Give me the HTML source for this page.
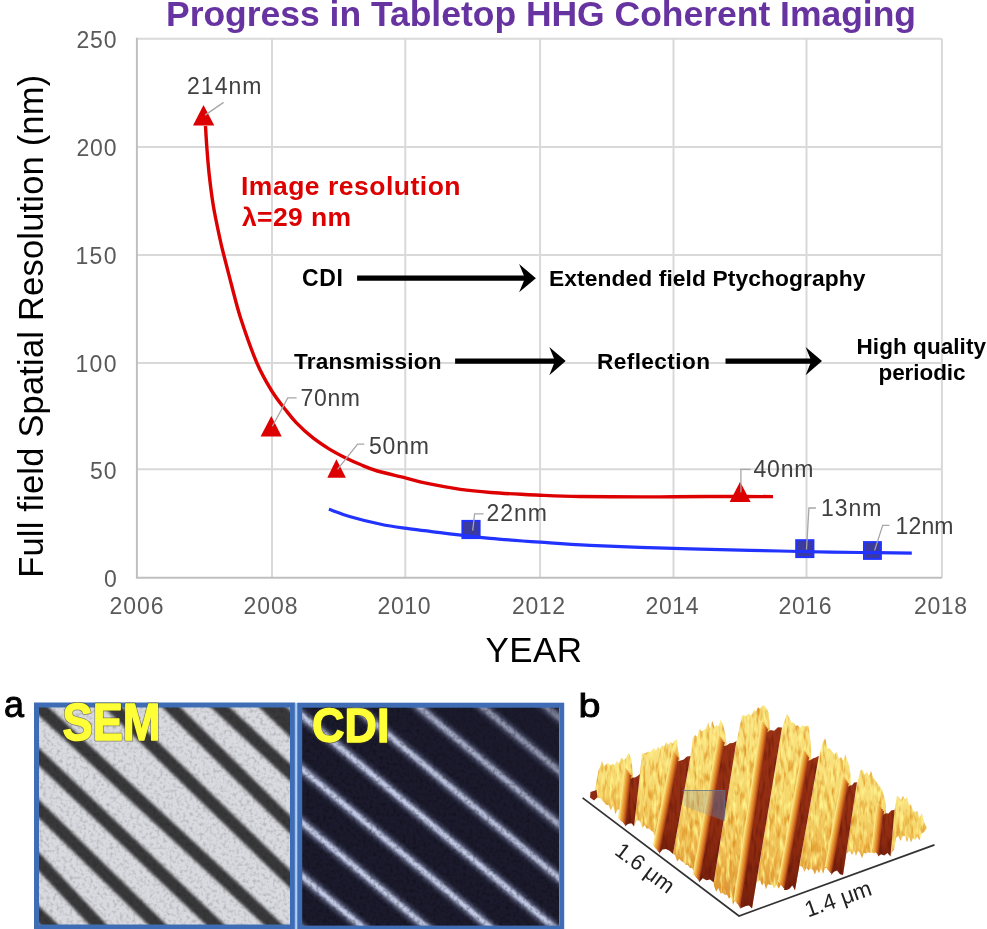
<!DOCTYPE html>
<html><head><meta charset="utf-8"><title>Progress in Tabletop HHG Coherent Imaging</title>
<style>
html,body{margin:0;padding:0;background:#fff;}
body{width:987px;height:929px;overflow:hidden;position:relative;}
svg{position:absolute;left:0;top:0;}
text{font-family:'Liberation Sans',Arial,sans-serif;}
</style></head><body>
<svg width="987" height="929" viewBox="0 0 987 929">
<line x1="272.0" y1="38.8" x2="272.0" y2="577.8" stroke="#d9d9d9" stroke-width="2"/>
<line x1="405.3" y1="38.8" x2="405.3" y2="577.8" stroke="#d9d9d9" stroke-width="2"/>
<line x1="540.1" y1="38.8" x2="540.1" y2="577.8" stroke="#d9d9d9" stroke-width="2"/>
<line x1="673.5" y1="38.8" x2="673.5" y2="577.8" stroke="#d9d9d9" stroke-width="2"/>
<line x1="806.5" y1="38.8" x2="806.5" y2="577.8" stroke="#d9d9d9" stroke-width="2"/>
<line x1="136.9" y1="38.8" x2="941.9" y2="38.8" stroke="#d9d9d9" stroke-width="2"/>
<line x1="136.9" y1="146.9" x2="941.9" y2="146.9" stroke="#d9d9d9" stroke-width="2"/>
<line x1="136.9" y1="255.0" x2="941.9" y2="255.0" stroke="#d9d9d9" stroke-width="2"/>
<line x1="136.9" y1="363.0" x2="941.9" y2="363.0" stroke="#d9d9d9" stroke-width="2"/>
<line x1="136.9" y1="469.3" x2="941.9" y2="469.3" stroke="#d9d9d9" stroke-width="2"/>
<line x1="941.9" y1="38.8" x2="941.9" y2="577.8" stroke="#d9d9d9" stroke-width="2"/>
<line x1="136.9" y1="37.8" x2="136.9" y2="577.8" stroke="#bfbfbf" stroke-width="2"/>
<line x1="135.9" y1="577.8" x2="941.9" y2="577.8" stroke="#bfbfbf" stroke-width="2"/>
<text x="241.00" y="194.70" font-size="26.50" font-weight="bold" fill="#dd0000" textLength="219.50" lengthAdjust="spacing">Image resolution</text>
<text x="242.00" y="225.80" font-size="26.50" font-weight="bold" fill="#dd0000" textLength="109.00" lengthAdjust="spacing">λ=29 nm</text>
<text x="302.00" y="285.80" font-size="23.00" font-weight="bold" fill="#000" textLength="41.00" lengthAdjust="spacing">CDI</text>
<text x="549.00" y="285.70" font-size="22.80" font-weight="bold" fill="#000" textLength="316.50" lengthAdjust="spacing">Extended field Ptychography</text>
<text x="294.00" y="368.80" font-size="22.60" font-weight="bold" fill="#000" textLength="147.50" lengthAdjust="spacing">Transmission</text>
<text x="597.00" y="368.70" font-size="22.60" font-weight="bold" fill="#000" textLength="113.00" lengthAdjust="spacing">Reflection</text>
<text x="856.50" y="353.80" font-size="22.50" font-weight="bold" fill="#000" textLength="129.50" lengthAdjust="spacing">High quality</text>
<text x="878.50" y="379.90" font-size="22.50" font-weight="bold" fill="#000" textLength="87.00" lengthAdjust="spacing">periodic</text>
<text x="109.50" y="614.00" font-size="23.00" font-weight="normal" fill="#595959" textLength="54.00" lengthAdjust="spacing">2006</text>
<text x="243.50" y="614.00" font-size="23.00" font-weight="normal" fill="#595959" textLength="54.00" lengthAdjust="spacing">2008</text>
<text x="377.50" y="614.00" font-size="23.00" font-weight="normal" fill="#595959" textLength="53.00" lengthAdjust="spacing">2010</text>
<text x="512.00" y="614.00" font-size="23.00" font-weight="normal" fill="#595959" textLength="53.00" lengthAdjust="spacing">2012</text>
<text x="645.50" y="614.00" font-size="23.00" font-weight="normal" fill="#595959" textLength="53.00" lengthAdjust="spacing">2014</text>
<text x="778.50" y="614.00" font-size="23.00" font-weight="normal" fill="#595959" textLength="53.00" lengthAdjust="spacing">2016</text>
<text x="914.00" y="614.00" font-size="23.00" font-weight="normal" fill="#595959" textLength="53.00" lengthAdjust="spacing">2018</text>
<text x="76.50" y="48.20" font-size="23.00" font-weight="normal" fill="#595959" textLength="40.00" lengthAdjust="spacing">250</text>
<text x="76.50" y="155.70" font-size="23.00" font-weight="normal" fill="#595959" textLength="40.00" lengthAdjust="spacing">200</text>
<text x="75.50" y="264.20" font-size="23.00" font-weight="normal" fill="#595959" textLength="41.00" lengthAdjust="spacing">150</text>
<text x="75.50" y="372.20" font-size="23.00" font-weight="normal" fill="#595959" textLength="41.00" lengthAdjust="spacing">100</text>
<text x="89.90" y="478.70" font-size="23.00" font-weight="normal" fill="#595959" textLength="26.60" lengthAdjust="spacing">50</text>
<text x="104.10" y="587.20" font-size="23.00" font-weight="normal" fill="#595959" textLength="21.40" lengthAdjust="spacing">0</text>
<polygon points="203.5,105.0 214.3,125.5 193.0,125.5" fill="#dd0000"/>
<polygon points="271.3,416.0 281.7,436.6 260.6,436.6" fill="#dd0000"/>
<polygon points="336.4,459.3 345.9,477.8 327.3,477.8" fill="#dd0000"/>
<polygon points="740.1,481.7 750.7,502.0 729.6,502.0" fill="#dd0000"/>
<rect x="462.4" y="520.9" width="17.2" height="17.2" fill="#3a3a9f" stroke="#2233ff" stroke-width="2"/>
<rect x="796.2" y="540.2" width="17.2" height="16.9" fill="#3a3a9f" stroke="#2233ff" stroke-width="2"/>
<rect x="864.0" y="542.1" width="16.9" height="16.8" fill="#3a3a9f" stroke="#2233ff" stroke-width="2"/>
<path d="M205.5,126.0 C205.7,129.5 206.2,138.8 206.8,146.9 C207.4,155.0 208.1,164.5 209.2,174.5 C210.3,184.5 211.7,196.1 213.5,206.8 C215.3,217.6 218.3,231.0 220.0,239.0 C221.7,247.0 221.9,247.4 223.8,255.0 C225.7,262.6 228.6,273.8 231.4,284.5 C234.2,295.2 236.7,305.9 240.9,319.0 C245.2,332.1 251.7,351.0 256.9,363.0 C262.0,375.0 267.0,383.2 271.8,391.0 C276.6,398.8 281.6,404.7 285.7,410.0 C289.8,415.3 291.8,418.0 296.2,422.6 C300.6,427.2 307.0,433.1 312.4,437.4 C317.8,441.7 323.2,445.2 328.6,448.6 C334.0,452.0 339.4,454.8 344.8,457.5 C350.2,460.2 355.6,462.6 361.0,464.8 C366.4,467.1 369.9,468.8 377.3,471.0 C384.7,473.2 397.2,475.8 405.3,477.8 C413.4,479.8 416.7,481.3 425.9,483.2 C435.1,485.1 449.6,487.8 460.4,489.4 C471.2,490.9 480.7,491.7 490.8,492.5 C500.9,493.3 513.0,493.9 521.2,494.3 C529.4,494.8 530.3,494.8 540.1,495.2 C549.9,495.6 562.9,496.2 580.0,496.5 C597.1,496.8 627.2,496.8 642.8,496.9 C658.4,496.9 660.3,496.9 673.5,496.8 C686.7,496.7 705.2,496.5 721.8,496.5 C738.4,496.5 764.5,496.6 773.0,496.6" fill="none" stroke="#dd0000" stroke-width="3.4"/>
<path d="M328.9,509.3 C332.5,510.5 341.8,514.2 350.4,516.7 C359.0,519.2 371.7,522.4 380.8,524.3 C389.9,526.2 394.0,526.7 405.1,528.2 C416.2,529.8 433.6,531.9 447.7,533.6 C461.8,535.3 474.6,536.9 490.0,538.3 C505.4,539.7 523.4,541.0 540.1,542.2 C556.8,543.4 567.8,544.4 590.0,545.4 C612.2,546.4 646.8,547.6 673.5,548.4 C700.2,549.2 728.9,549.8 750.0,550.3 C771.1,550.8 781.7,551.1 800.0,551.5 C818.3,551.9 841.4,552.2 860.0,552.5 C878.6,552.8 903.2,553.0 911.8,553.1" fill="none" stroke="#2233ff" stroke-width="3.2"/>
<polyline points="205.1,115.1 223.6,102.4" fill="none" stroke="#a6a6a6" stroke-width="1.3"/>
<polyline points="272.4,426.3 287.8,397.9 296.6,397.9" fill="none" stroke="#a6a6a6" stroke-width="1.3"/>
<polyline points="337.5,469.4 357.6,444.1 364.3,444.1" fill="none" stroke="#a6a6a6" stroke-width="1.3"/>
<polyline points="740.9,492.3 740.9,469.4 750.7,469.4" fill="none" stroke="#a6a6a6" stroke-width="1.3"/>
<polyline points="472.7,530.6 474.6,513.8 483.6,513.8" fill="none" stroke="#a6a6a6" stroke-width="1.3"/>
<polyline points="806.5,549.6 808.9,508.0 815.9,508.0" fill="none" stroke="#a6a6a6" stroke-width="1.3"/>
<polyline points="874.6,550.4 882.7,525.3 889.4,525.3" fill="none" stroke="#a6a6a6" stroke-width="1.3"/>
<text x="187.00" y="93.90" font-size="23.00" font-weight="normal" fill="#404040" textLength="74.50" lengthAdjust="spacing">214nm</text>
<text x="300.50" y="406.10" font-size="23.00" font-weight="normal" fill="#404040" textLength="59.50" lengthAdjust="spacing">70nm</text>
<text x="369.00" y="453.50" font-size="23.00" font-weight="normal" fill="#404040" textLength="60.00" lengthAdjust="spacing">50nm</text>
<text x="753.50" y="476.90" font-size="23.00" font-weight="normal" fill="#404040" textLength="60.00" lengthAdjust="spacing">40nm</text>
<text x="486.50" y="520.90" font-size="23.00" font-weight="normal" fill="#404040" textLength="60.50" lengthAdjust="spacing">22nm</text>
<text x="821.00" y="515.80" font-size="23.00" font-weight="normal" fill="#404040" textLength="60.50" lengthAdjust="spacing">13nm</text>
<text x="895.50" y="533.90" font-size="23.00" font-weight="normal" fill="#404040" textLength="58.00" lengthAdjust="spacing">12nm</text>
<line x1="357.1" y1="278.2" x2="526.0" y2="278.2" stroke="#000" stroke-width="5.3"/><polygon points="535.9,278.2 519.1,264.1 525.0,278.2 519.1,292.3" fill="#000"/>
<line x1="455.1" y1="361.1" x2="556.0" y2="361.1" stroke="#000" stroke-width="5.3"/><polygon points="565.7,361.1 549.3,346.9 555.0,361.1 549.3,375.3" fill="#000"/>
<line x1="725.5" y1="361.1" x2="812.3" y2="361.1" stroke="#000" stroke-width="5.3"/><polygon points="822.0,361.1 805.6,347.0 811.3,361.1 805.6,375.2" fill="#000"/>
<text x="166.00" y="26.40" font-size="35.50" font-weight="bold" fill="#6633a0" textLength="750.00" lengthAdjust="spacing">Progress in Tabletop HHG Coherent Imaging</text>
<text x="0" y="0" font-size="34.5" fill="#000" text-anchor="middle" transform="translate(43.0,326.3) rotate(-90)" textLength="503" lengthAdjust="spacing">Full field Spatial Resolution (nm)</text>
<text x="485.50" y="662.30" font-size="35.00" font-weight="normal" fill="#000" textLength="96.50" lengthAdjust="spacing">YEAR</text>

<defs>
<filter id="semnoise" x="0" y="0" width="100%" height="100%">
  <feTurbulence type="fractalNoise" baseFrequency="0.3" numOctaves="2" seed="3" result="n"/>
  <feColorMatrix in="n" type="matrix" values="0 0 0 0 0  0 0 0 0 0  0 0 0 0 0  2.2 0 0 0 -1.0" result="a0"/>
  <feGaussianBlur in="a0" stdDeviation="0.7" result="a"/>
  <feComposite in="a" in2="SourceGraphic" operator="in"/>
</filter>
<filter id="blur2" x="-20%" y="-20%" width="140%" height="140%"><feGaussianBlur stdDeviation="2"/></filter>
<filter id="blur15" x="-20%" y="-20%" width="140%" height="140%"><feGaussianBlur stdDeviation="1.6"/></filter>
<filter id="blur1"><feGaussianBlur stdDeviation="1.2"/></filter>
<filter id="blur07"><feGaussianBlur stdDeviation="0.7"/></filter>
<linearGradient id="cdidim" x1="0" y1="1" x2="1" y2="0"><stop offset="0" stop-color="#1a1a2c" stop-opacity="0"/><stop offset="0.55" stop-color="#1a1a2c" stop-opacity="0"/><stop offset="1" stop-color="#1a1a2c" stop-opacity="0.45"/></linearGradient>
<clipPath id="semclip"><rect x="39" y="707" width="251" height="222"/></clipPath>
<clipPath id="cdiclip"><rect x="302" y="707" width="257" height="222"/></clipPath>
</defs>

<text x="4.0" y="717" font-size="36" fill="#000" stroke="#000" stroke-width="0.9">a</text>
<g clip-path="url(#semclip)"><rect x="39" y="707" width="251" height="222" fill="#d9dadf"/><line x1="175.3" y1="610.2" x2="408.7" y2="832.0" stroke="#38383b" stroke-width="13" filter="url(#blur15)"/><line x1="111.2" y1="605.8" x2="398.8" y2="873.5" stroke="#38383b" stroke-width="13" filter="url(#blur15)"/><line x1="65.3" y1="602.6" x2="395.7" y2="928.9" stroke="#38383b" stroke-width="13" filter="url(#blur15)"/><line x1="6.4" y1="603.5" x2="396.6" y2="982.5" stroke="#38383b" stroke-width="13" filter="url(#blur15)"/><line x1="-69.9" y1="605.9" x2="380.4" y2="1024.1" stroke="#38383b" stroke-width="13" filter="url(#blur15)"/><line x1="-68.7" y1="654.6" x2="321.2" y2="1025.4" stroke="#38383b" stroke-width="13" filter="url(#blur15)"/><line x1="-67.2" y1="705.1" x2="261.7" y2="1026.9" stroke="#38383b" stroke-width="13" filter="url(#blur15)"/><line x1="-62.6" y1="753.6" x2="197.9" y2="1031.4" stroke="#38383b" stroke-width="13" filter="url(#blur15)"/><line x1="-68.2" y1="812.1" x2="158.2" y2="1029.5" stroke="#38383b" stroke-width="13" filter="url(#blur15)"/><line x1="131.7" y1="576.2" x2="408.3" y2="841.3" stroke="#38383b" stroke-width="13" filter="url(#blur15)"/><rect x="39" y="707" width="251" height="222" fill="#000000" filter="url(#semnoise)" opacity="0.18"/></g>
<g clip-path="url(#cdiclip)"><rect x="302" y="707" width="257" height="222" fill="#1a1a2c"/><line x1="280.0" y1="429.7" x2="580.0" y2="681.7" stroke="#6a7090" stroke-width="10" filter="url(#blur2)"/><line x1="280.0" y1="429.7" x2="580.0" y2="681.7" stroke="#c4cce6" stroke-width="5" filter="url(#blur1)"/><line x1="280.0" y1="483.2" x2="580.0" y2="735.2" stroke="#6a7090" stroke-width="10" filter="url(#blur2)"/><line x1="280.0" y1="483.2" x2="580.0" y2="735.2" stroke="#c4cce6" stroke-width="5" filter="url(#blur1)"/><line x1="280.0" y1="536.7" x2="580.0" y2="788.7" stroke="#6a7090" stroke-width="10" filter="url(#blur2)"/><line x1="280.0" y1="536.7" x2="580.0" y2="788.7" stroke="#c4cce6" stroke-width="5" filter="url(#blur1)"/><line x1="280.0" y1="590.2" x2="580.0" y2="842.2" stroke="#6a7090" stroke-width="10" filter="url(#blur2)"/><line x1="280.0" y1="590.2" x2="580.0" y2="842.2" stroke="#c4cce6" stroke-width="5" filter="url(#blur1)"/><line x1="280.0" y1="643.7" x2="580.0" y2="895.7" stroke="#6a7090" stroke-width="10" filter="url(#blur2)"/><line x1="280.0" y1="643.7" x2="580.0" y2="895.7" stroke="#c4cce6" stroke-width="5" filter="url(#blur1)"/><line x1="280.0" y1="697.2" x2="580.0" y2="949.2" stroke="#6a7090" stroke-width="10" filter="url(#blur2)"/><line x1="280.0" y1="697.2" x2="580.0" y2="949.2" stroke="#c4cce6" stroke-width="5" filter="url(#blur1)"/><line x1="280.0" y1="750.7" x2="580.0" y2="1002.7" stroke="#6a7090" stroke-width="10" filter="url(#blur2)"/><line x1="280.0" y1="750.7" x2="580.0" y2="1002.7" stroke="#c4cce6" stroke-width="5" filter="url(#blur1)"/><line x1="280.0" y1="804.2" x2="580.0" y2="1056.2" stroke="#6a7090" stroke-width="10" filter="url(#blur2)"/><line x1="280.0" y1="804.2" x2="580.0" y2="1056.2" stroke="#c4cce6" stroke-width="5" filter="url(#blur1)"/><line x1="280.0" y1="857.7" x2="580.0" y2="1109.7" stroke="#6a7090" stroke-width="10" filter="url(#blur2)"/><line x1="280.0" y1="857.7" x2="580.0" y2="1109.7" stroke="#c4cce6" stroke-width="5" filter="url(#blur1)"/><line x1="280.0" y1="911.2" x2="580.0" y2="1163.2" stroke="#6a7090" stroke-width="10" filter="url(#blur2)"/><line x1="280.0" y1="911.2" x2="580.0" y2="1163.2" stroke="#c4cce6" stroke-width="5" filter="url(#blur1)"/><line x1="280.0" y1="964.7" x2="580.0" y2="1216.7" stroke="#6a7090" stroke-width="10" filter="url(#blur2)"/><line x1="280.0" y1="964.7" x2="580.0" y2="1216.7" stroke="#c4cce6" stroke-width="5" filter="url(#blur1)"/><rect x="302" y="707" width="257" height="222" fill="#000010" filter="url(#semnoise)" opacity="0.35"/><rect x="302" y="707" width="257" height="222" fill="url(#cdidim)"/></g>
<rect x="36.5" y="705" width="256" height="222" fill="none" stroke="#3f6db5" stroke-width="5"/>
<rect x="299.7" y="705.2" width="262" height="222.9" fill="none" stroke="#3f6db5" stroke-width="5"/>
<line x1="295.8" y1="703" x2="295.8" y2="929" stroke="#9cc2f2" stroke-width="2"/>
<text x="62.5" y="740.3" font-size="51" font-weight="bold" fill="#3a3a12" stroke="#3a3a12" stroke-width="3" stroke-linejoin="round" opacity="0.55" textLength="98.0" lengthAdjust="spacingAndGlyphs">SEM</text>
<text x="62.5" y="740.3" font-size="51" font-weight="bold" fill="#ffff38" stroke="#ffff38" stroke-width="1.4" stroke-linejoin="round" textLength="98.0" lengthAdjust="spacingAndGlyphs">SEM</text>
<text x="312.0" y="742.2" font-size="49" font-weight="bold" fill="#3a3a12" stroke="#3a3a12" stroke-width="3" stroke-linejoin="round" opacity="0.55" textLength="77.5" lengthAdjust="spacingAndGlyphs">CDI</text>
<text x="312.0" y="742.2" font-size="49" font-weight="bold" fill="#ffff38" stroke="#ffff38" stroke-width="1.4" stroke-linejoin="round" textLength="77.5" lengthAdjust="spacingAndGlyphs">CDI</text>
<defs>
<filter id="ridgeTex" x="0" y="0" width="100%" height="100%" color-interpolation-filters="sRGB">
 <feTurbulence type="fractalNoise" baseFrequency="0.3 0.075" numOctaves="2" seed="5" result="n"/>
 <feColorMatrix in="n" type="matrix" values="0 0 0 0 0.88  0 0 0 0 0.6  0 0 0 0 0.16  2.8 0 0 0 -1.25" result="c1"/>
 <feColorMatrix in="n" type="matrix" values="0 0 0 0 1  0 0 0 0 0.96  0 0 0 0 0.55  0 2.6 0 0 -1.15" result="c2"/>
 <feMerge result="m"><feMergeNode in="c1"/><feMergeNode in="c2"/></feMerge>
 <feComposite in="m" in2="SourceGraphic" operator="atop"/>
</filter>
<filter id="trTex" x="0" y="0" width="100%" height="100%" color-interpolation-filters="sRGB">
 <feTurbulence type="fractalNoise" baseFrequency="0.35 0.08" numOctaves="1" seed="9" result="n"/>
 <feColorMatrix in="n" type="matrix" values="0 0 0 0 0.36  0 0 0 0 0.06  0 0 0 0 0.02  1.6 0 0 0 -0.72" result="c1"/>
 <feComposite in="c1" in2="SourceGraphic" operator="atop"/>
</filter>
<filter id="soft05"><feGaussianBlur stdDeviation="0.5"/></filter>
<linearGradient id="rg" x1="0" y1="0" x2="0" y2="1">
 <stop offset="0" stop-color="#fae484"/><stop offset="0.45" stop-color="#f5d66a"/><stop offset="0.75" stop-color="#edb64c"/><stop offset="1" stop-color="#d5842a"/>
</linearGradient>
<linearGradient id="tg" x1="0" y1="0" x2="0" y2="1">
 <stop offset="0" stop-color="#9a3214"/><stop offset="0.7" stop-color="#8c2a10"/><stop offset="1" stop-color="#76200c"/>
</linearGradient>
</defs>
<g><g filter="url(#ridgeTex)"><polygon points="591.0,797.0 593.0,792.7 595.0,791.0 597.0,778.0 598.5,770.5 600.0,767.0 602.0,760.6 604.0,766.5 606.0,764.5 608.2,762.7 610.3,765.6 612.5,763.8 614.7,765.1 616.8,761.1 619.0,763.5 621.3,757.6 623.7,760.1 626.0,758.0 627.5,754.8 629.0,752.8 630.2,756.3 631.5,760.0 632.5,770.0 633.0,777.0 625.0,826.5 626.0,811.0 624.0,809.4 621.9,814.5 619.9,810.0 617.6,809.2 615.4,814.2 613.1,805.6 610.8,810.6 608.6,805.1 606.3,805.0 604.2,802.6 602.1,800.4 600.0,798.0 597.7,797.8 595.3,799.0 593.0,799.0" fill="url(#rg)"/><polygon points="639.5,777.0 642.0,754.0 644.0,753.0 646.0,753.0 648.0,751.6 650.0,752.0 652.0,750.0 654.0,748.2 656.0,750.9 658.0,746.5 660.0,749.3 662.0,745.5 664.0,746.5 666.2,742.3 668.4,745.0 670.6,742.1 672.8,743.8 675.0,740.0 676.8,739.6 678.5,752.0 680.0,759.6 659.0,854.0 660.0,838.0 657.8,834.7 655.5,838.4 653.2,832.1 651.0,830.4 648.8,828.6 646.7,828.7 644.5,825.2 642.3,828.1 640.2,821.4 638.0,820.0 636.0,821.8 634.0,826.5 634.0,826.5" fill="url(#rg)"/><polygon points="690.0,759.0 693.0,737.6 695.2,735.1 697.3,737.0 699.5,728.4 701.7,731.6 703.8,729.8 706.0,728.6 708.1,722.6 710.1,728.5 712.2,720.4 714.3,727.0 716.4,725.3 718.5,726.3 720.5,720.1 722.6,723.4 724.0,728.7 725.5,735.0 726.5,744.0 699.0,882.4 699.0,875.0 696.8,873.2 694.5,873.5 692.2,867.9 690.0,868.0 687.9,865.0 685.7,865.0 683.6,862.3 681.4,861.2 679.3,858.7 677.1,861.6 675.0,855.0 673.0,854.0 673.0,854.0" fill="url(#rg)"/><polygon points="736.0,744.0 742.0,715.7 744.0,715.2 746.0,716.6 748.0,713.6 750.0,715.1 752.0,714.4 754.0,709.4 756.0,711.7 758.0,707.2 760.0,708.6 762.0,705.7 764.0,705.3 766.2,708.3 768.5,711.8 770.0,725.0 770.0,730.4 740.0,908.4 737.0,901.0 735.0,899.9 733.0,904.8 731.0,896.7 729.0,898.8 727.0,894.4 725.0,895.0 722.8,893.1 720.6,893.8 718.4,888.1 716.2,891.7 714.0,886.0 713.7,882.4 713.7,882.4" fill="url(#rg)"/><polygon points="781.5,730.4 786.8,714.2 789.0,717.0 791.3,722.5 793.5,722.6 795.8,725.8 797.9,725.4 800.1,727.7 802.2,725.1 804.4,726.5 806.6,725.8 808.7,725.8 811.0,745.0 811.3,758.8 784.0,890.0 783.0,885.0 780.8,885.0 778.7,888.5 776.5,884.9 774.3,888.6 772.2,884.7 770.0,885.0 768.0,883.9 766.0,889.3 764.0,882.4 762.0,885.6 760.0,879.9 758.0,881.8 756.0,880.0 754.0,882.5 752.0,885.0 752.0,908.4 752.0,908.4" fill="url(#rg)"/><polygon points="818.4,758.8 823.0,741.3 825.3,738.5 827.6,748.5 830.0,748.6 832.3,752.1 834.6,754.2 836.8,751.7 838.9,758.7 841.0,757.2 843.2,760.9 845.4,754.6 847.5,760.7 849.1,765.5 850.7,775.0 850.7,785.2 831.0,875.0 831.0,867.0 829.0,867.0 827.0,868.3 825.0,868.0 823.0,874.1 821.0,868.6 819.0,873.2 817.0,869.2 815.0,874.6 813.0,870.0 810.8,868.6 808.7,870.4 806.5,867.9 804.3,871.7 802.2,866.7 800.0,866.0 797.5,867.9 795.0,870.0 794.0,889.5 795.0,890.0" fill="url(#rg)"/><polygon points="856.5,785.2 860.4,770.4 862.5,769.5 864.7,774.9 866.8,771.5 869.0,775.8 871.1,770.8 873.3,777.5 875.6,780.5 877.8,784.0 880.1,786.7 882.4,790.4 884.2,796.4 886.0,805.0 886.0,812.7 878.0,856.4 878.0,852.0 876.0,852.2 874.0,853.6 872.0,852.5 870.0,853.0 868.0,852.3 866.0,853.8 864.0,852.7 862.0,858.3 860.0,853.0 858.0,850.7 856.0,856.1 854.0,850.8 852.0,854.9 850.0,851.0 848.0,852.3 846.0,853.9 844.0,855.0 843.0,875.0 843.0,875.0" fill="url(#rg)"/><polygon points="894.0,812.7 897.0,796.0 899.0,797.0 901.0,800.3 903.0,795.8 905.0,800.0 907.0,796.4 909.0,804.9 911.0,804.6 913.0,810.8 915.0,812.0 917.2,811.0 919.5,817.8 921.8,813.0 924.0,822.0 925.5,825.0 927.0,828.0 924.0,832.0 921.8,833.4 919.5,840.4 917.2,836.4 915.0,840.0 913.0,838.1 911.0,842.6 909.0,836.3 907.0,842.3 905.0,836.0 902.8,836.3 900.5,841.1 898.2,835.9 896.0,838.0 894.0,850.0 892.2,851.7 890.5,856.4 890.5,856.4" fill="url(#rg)"/></g><polygon points="624.1,767.0 626.0,767.0 620.0,818.5 618.1,818.5" fill="#fbe485"/><polygon points="625.2,768.6 627.1,768.6 621.2,819.7 619.3,819.7" fill="#f2c55a"/><polygon points="626.3,770.2 628.2,770.2 622.3,820.9 620.4,820.9" fill="#eaa53e"/><polygon points="627.4,771.8 629.3,771.8 623.5,822.1 621.6,822.1" fill="#e08a2c"/><polygon points="628.5,773.4 630.4,773.4 624.7,823.3 622.8,823.3" fill="#cf6a20"/><polygon points="629.7,775.0 631.6,775.0 625.8,824.5 623.9,824.5" fill="#b04a18"/><polygon points="672.1,749.6 674.0,749.6 654.7,846.0 652.8,846.0" fill="#fbe485"/><polygon points="673.1,751.2 675.0,751.2 655.8,847.2 653.9,847.2" fill="#f2c55a"/><polygon points="674.1,752.8 676.0,752.8 656.8,848.4 654.9,848.4" fill="#eaa53e"/><polygon points="675.0,754.4 676.9,754.4 657.9,849.6 656.0,849.6" fill="#e08a2c"/><polygon points="676.0,756.0 677.9,756.0 658.9,850.8 657.0,850.8" fill="#cf6a20"/><polygon points="677.0,757.6 678.9,757.6 660.0,852.0 658.1,852.0" fill="#b04a18"/><polygon points="717.9,734.0 719.8,734.0 694.5,874.4 692.6,874.4" fill="#fbe485"/><polygon points="718.9,735.6 720.8,735.6 695.6,875.6 693.7,875.6" fill="#f2c55a"/><polygon points="719.9,737.2 721.8,737.2 696.7,876.8 694.8,876.8" fill="#eaa53e"/><polygon points="720.9,738.8 722.8,738.8 697.8,878.0 695.9,878.0" fill="#e08a2c"/><polygon points="721.9,740.4 723.8,740.4 698.9,879.2 697.0,879.2" fill="#cf6a20"/><polygon points="722.9,742.0 724.8,742.0 700.0,880.4 698.1,880.4" fill="#b04a18"/><polygon points="761.0,720.4 762.9,720.4 735.3,900.4 733.4,900.4" fill="#fbe485"/><polygon points="762.1,722.0 764.0,722.0 736.4,901.6 734.5,901.6" fill="#f2c55a"/><polygon points="763.1,723.6 765.1,723.6 737.6,902.8 735.7,902.8" fill="#eaa53e"/><polygon points="764.2,725.2 766.1,725.2 738.7,904.0 736.8,904.0" fill="#e08a2c"/><polygon points="765.3,726.8 767.2,726.8 739.8,905.2 737.9,905.2" fill="#cf6a20"/><polygon points="766.3,728.4 768.2,728.4 740.9,906.4 739.0,906.4" fill="#b04a18"/><polygon points="802.4,748.8 804.3,748.8 779.6,882.0 777.7,882.0" fill="#fbe485"/><polygon points="803.4,750.4 805.3,750.4 780.7,883.2 778.8,883.2" fill="#f2c55a"/><polygon points="804.4,752.0 806.3,752.0 781.7,884.4 779.8,884.4" fill="#eaa53e"/><polygon points="805.4,753.6 807.3,753.6 782.8,885.6 780.9,885.6" fill="#e08a2c"/><polygon points="806.4,755.2 808.3,755.2 783.9,886.8 782.0,886.8" fill="#cf6a20"/><polygon points="807.4,756.8 809.3,756.8 785.0,888.0 783.1,888.0" fill="#b04a18"/><polygon points="842.0,775.2 843.9,775.2 826.6,867.0 824.7,867.0" fill="#fbe485"/><polygon points="843.0,776.8 844.9,776.8 827.7,868.2 825.8,868.2" fill="#f2c55a"/><polygon points="844.0,778.4 845.9,778.4 828.8,869.4 826.9,869.4" fill="#eaa53e"/><polygon points="845.0,780.0 846.9,780.0 829.8,870.6 827.9,870.6" fill="#e08a2c"/><polygon points="846.0,781.6 847.9,781.6 830.9,871.8 829.0,871.8" fill="#cf6a20"/><polygon points="847.0,783.2 848.9,783.2 832.0,873.0 830.1,873.0" fill="#b04a18"/><polygon points="876.6,802.7 878.5,802.7 873.1,848.4 871.2,848.4" fill="#fbe485"/><polygon points="877.7,804.3 879.6,804.3 874.2,849.6 872.3,849.6" fill="#f2c55a"/><polygon points="878.9,805.9 880.8,805.9 875.4,850.8 873.5,850.8" fill="#eaa53e"/><polygon points="880.0,807.5 881.9,807.5 876.5,852.0 874.6,852.0" fill="#e08a2c"/><polygon points="881.1,809.1 883.0,809.1 877.7,853.2 875.8,853.2" fill="#cf6a20"/><polygon points="882.2,810.7 884.1,810.7 878.8,854.4 876.9,854.4" fill="#b04a18"/><polygon points="630.5,779.0 632.8,777.5 635.0,777.4 637.2,776.3 640.0,774.0 634.0,826.5 631.8,823.6 629.5,823.4 627.2,824.6 625.0,826.5" fill="url(#tg)" filter="url(#trTex)"/><polygon points="677.5,761.6 680.6,760.6 683.8,759.4 686.9,756.6 690.5,756.0 673.0,854.0 669.5,850.8 666.0,849.0 662.5,849.6 659.0,854.0" fill="url(#tg)" filter="url(#trTex)"/><polygon points="723.5,746.0 726.6,745.4 729.8,743.2 732.9,743.0 736.5,741.0 713.7,882.4 710.0,879.5 706.4,880.2 702.7,878.2 699.0,882.4" fill="url(#tg)" filter="url(#trTex)"/><polygon points="767.0,732.4 770.6,729.9 774.2,730.7 777.9,727.2 782.0,727.4 752.0,908.4 749.0,905.4 746.0,906.0 743.0,907.2 740.0,908.4" fill="url(#tg)" filter="url(#trTex)"/><polygon points="808.0,760.8 810.6,760.1 813.2,758.3 815.8,757.4 818.9,755.8 795.0,890.0 792.2,885.4 789.5,888.7 786.8,889.9 784.0,890.0" fill="url(#tg)" filter="url(#trTex)"/><polygon points="847.5,787.2 849.8,785.4 852.0,785.2 854.2,782.6 857.0,782.2 843.0,875.0 840.0,874.2 837.0,870.5 834.0,871.7 831.0,875.0" fill="url(#tg)" filter="url(#trTex)"/><polygon points="883.0,814.7 885.8,813.3 888.5,813.4 891.2,810.4 894.5,809.7 890.5,856.4 887.4,853.1 884.2,855.4 881.1,854.2 878.0,856.4" fill="url(#tg)" filter="url(#trTex)"/><polygon points="590.5,792 596.5,790 597.5,797 594,800.5 590,797.5" fill="#8e2a12"/></g>
<polygon points="682.6,790 725,790 724,821 684,806" fill="#8494ac" opacity="0.28"/>
<polygon points="712,790 725,790 724,821 713,815" fill="#55668c" opacity="0.35"/>
<polyline points="682.6,790.5 725,790.5 724,821" fill="none" stroke="#5d6d88" stroke-width="1.2" opacity="0.75"/>
<polyline points="582.6,797.9 739,916 934.5,844.8" fill="none" stroke="#333" stroke-width="1.8"/>
<text x="0" y="0" fill="#222" transform="translate(613.5,853.5) rotate(37)" font-size="22">1.6 μm</text>
<text x="0" y="0" font-size="22.5" fill="#222" transform="translate(808,917.5) rotate(-19.5)">1.4 μm</text>
<text x="578.6" y="717.2" font-size="34" fill="#000" stroke="#000" stroke-width="0.9" textLength="22" lengthAdjust="spacingAndGlyphs">b</text>
</svg>
</body></html>
